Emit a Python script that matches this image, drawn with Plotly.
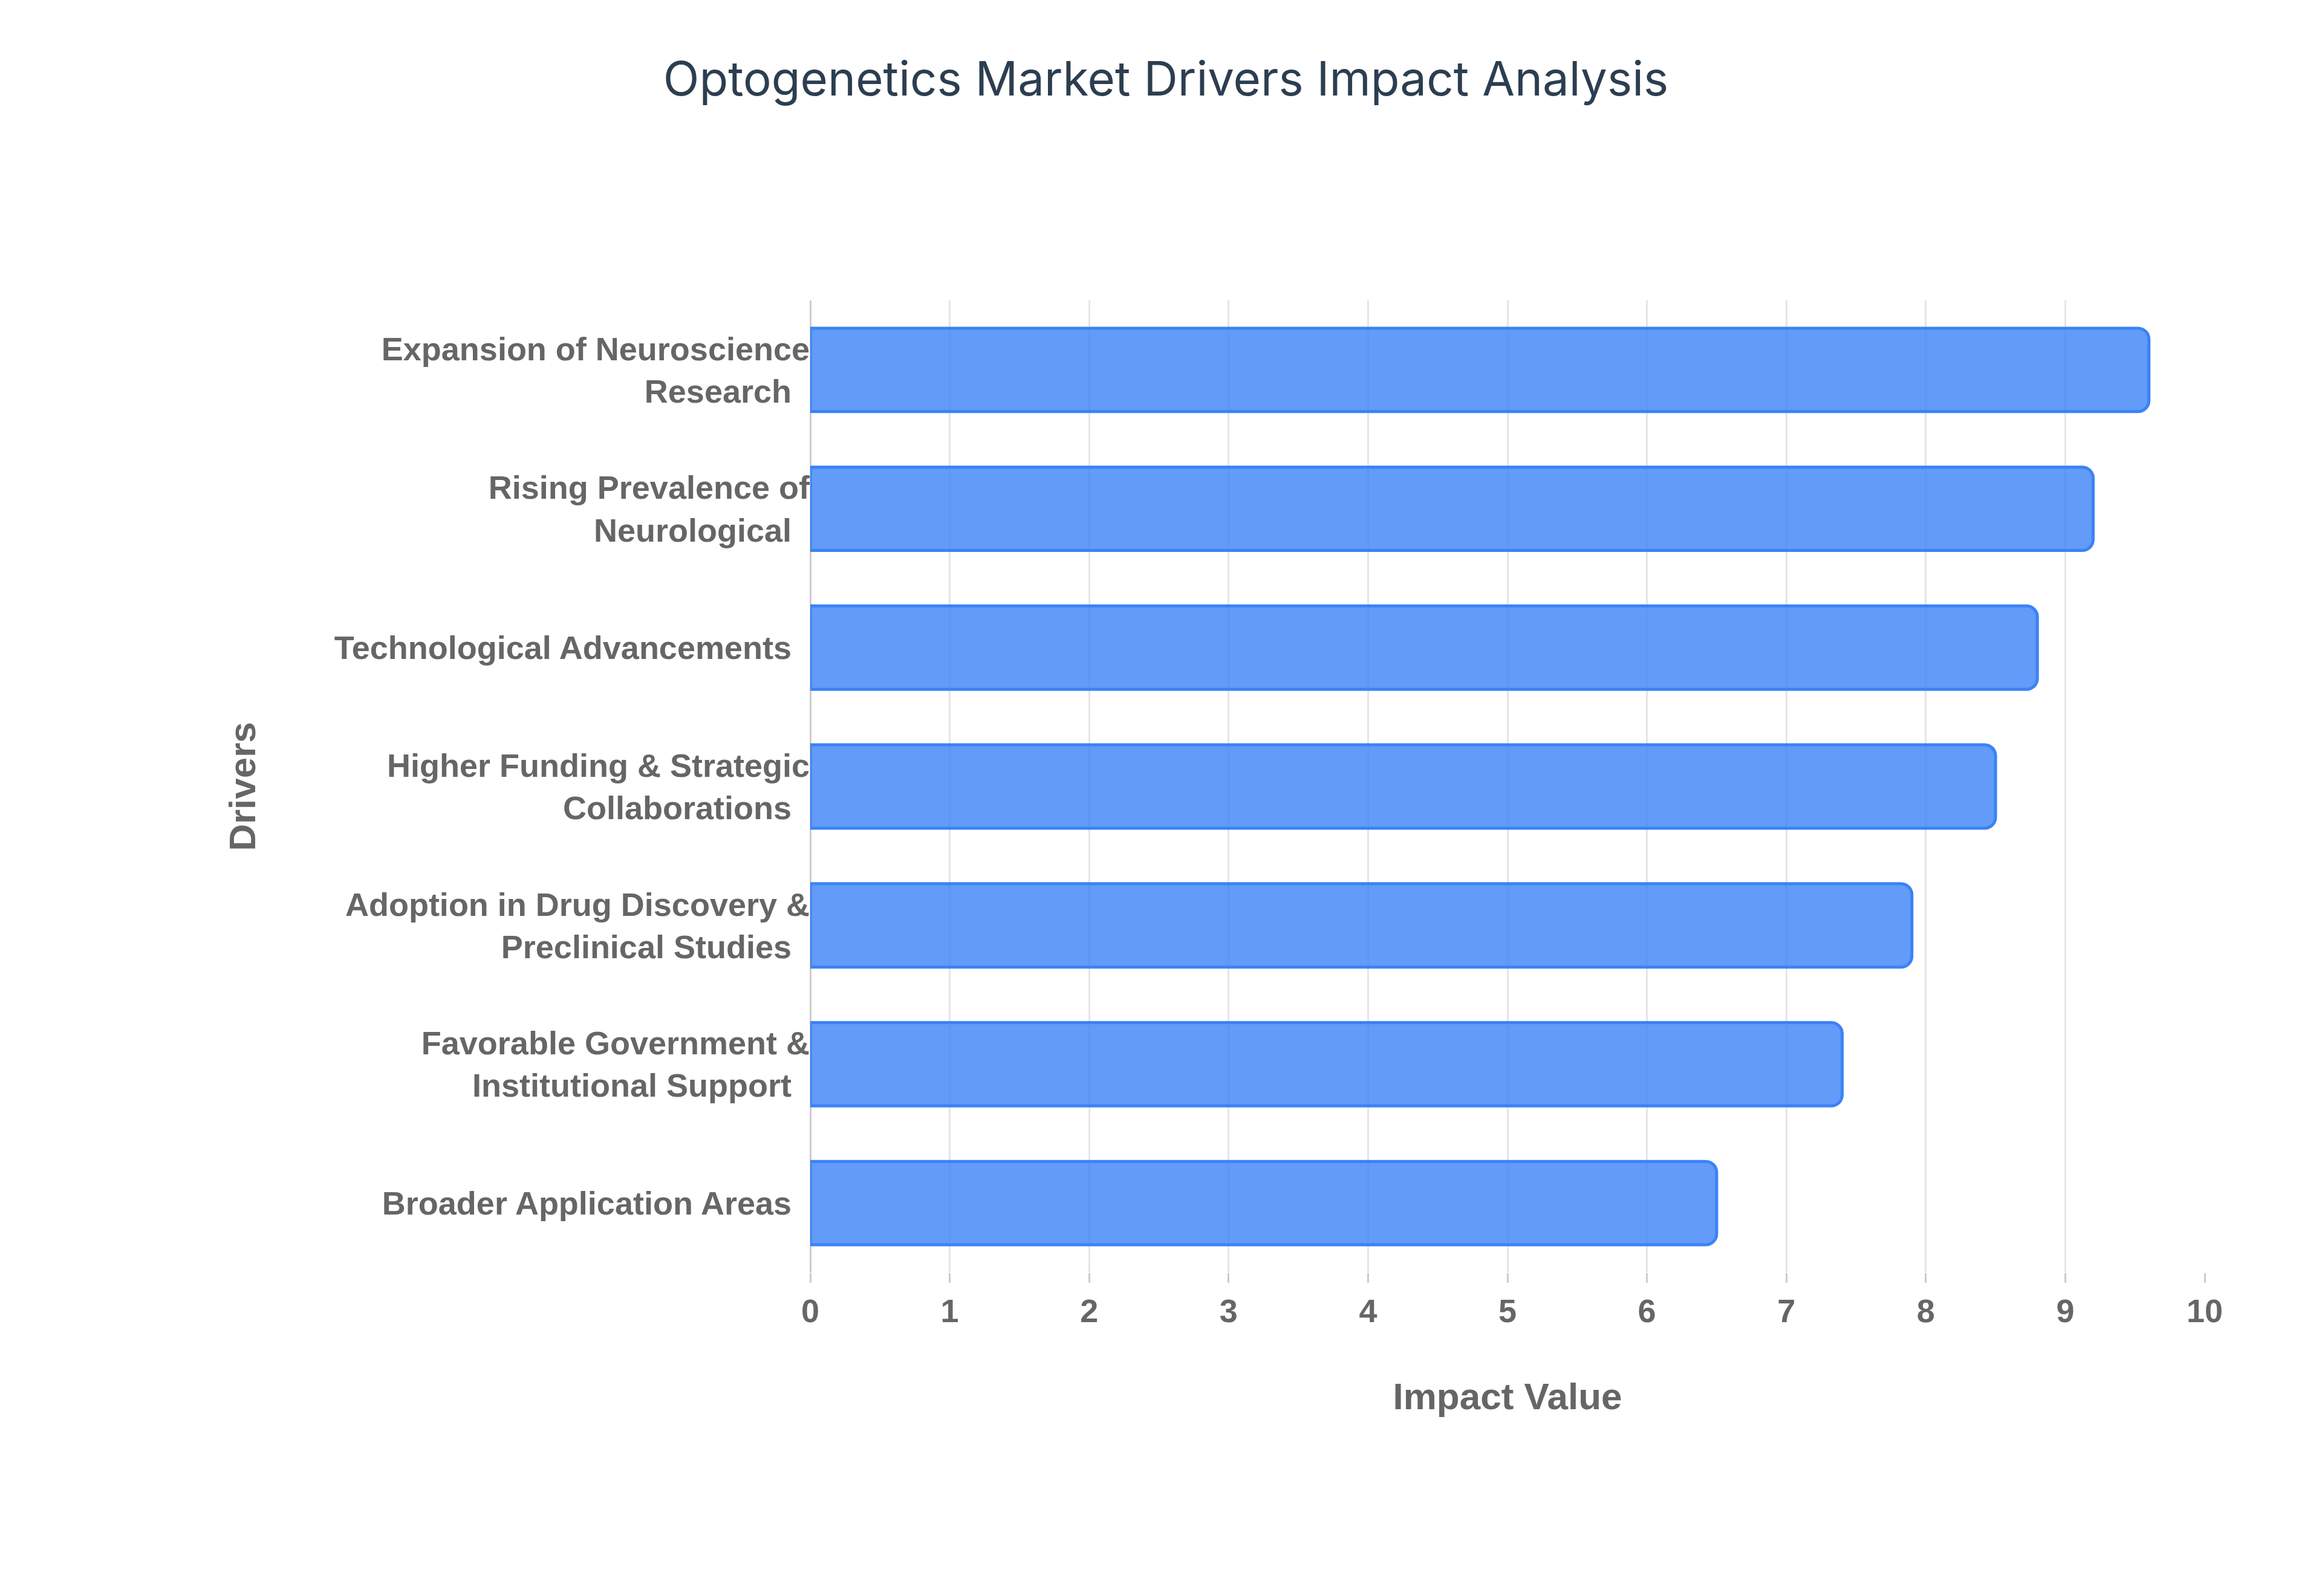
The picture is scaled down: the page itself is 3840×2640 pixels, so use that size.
import plotly.graph_objects as go

# Data
drivers = [
    "Expansion of Neuroscience<br>Research",
    "Rising Prevalence of<br>Neurological",
    "Technological Advancements",
    "Higher Funding & Strategic<br>Collaborations",
    "Adoption in Drug Discovery &<br>Preclinical Studies",
    "Favorable Government &<br>Institutional Support",
    "Broader Application Areas",
]
impact = [9.6, 9.2, 8.8, 8.5, 7.9, 7.4, 6.5]
x_ticks = list(range(0, 11))

LABEL_FONT = dict(family="Liberation Sans, Arial, sans-serif", size=54, color="#666666")

fig = go.Figure(
    go.Bar(
        x=impact,
        y=drivers,
        orientation="h",
        marker=dict(
            color="rgba(59,130,246,0.8)",
            line=dict(color="#3b82f6", width=5),
            cornerradius=18,
        ),
        hovertemplate="%{y}: %{x}<extra></extra>",
    )
)

fig.update_layout(
    width=3840,
    height=2640,
    paper_bgcolor="white",
    plot_bgcolor="white",
    bargap=0.4,
    showlegend=False,
    margin=dict(l=1332, r=202, t=489, b=543),
    title=dict(
        text="Optogenetics Market Drivers Impact Analysis",
        x=0.5,
        y=0.964,
        xanchor="center",
        font=dict(family="Inter, sans-serif", size=78, color="#2c3e50"),
    ),
)

fig.update_xaxes(
    range=[0, 10],
    tickvals=x_ticks,
    tickfont=dict(LABEL_FONT, size=54, weight="bold"),
    showgrid=True,
    gridcolor="#e5e5e5",
    gridwidth=3,
    zeroline=True,
    zerolinecolor="#cccccc",
    zerolinewidth=3,
    ticks="outside",
    ticklen=16,
    tickcolor="#cccccc",
    tickwidth=3,
    title=dict(text="Impact Value", font=dict(LABEL_FONT, size=62, weight="bold"), standoff=90),
)
fig.update_yaxes(
    categoryorder="array",
    categoryarray=drivers[::-1],
    tickfont=dict(LABEL_FONT, weight="bold"),
    ticksuffix="  ",
    showgrid=False,
    title=dict(text="Drivers", font=dict(LABEL_FONT, size=62, weight="bold"), standoff=110),
)

fig.write_html("out.html")
